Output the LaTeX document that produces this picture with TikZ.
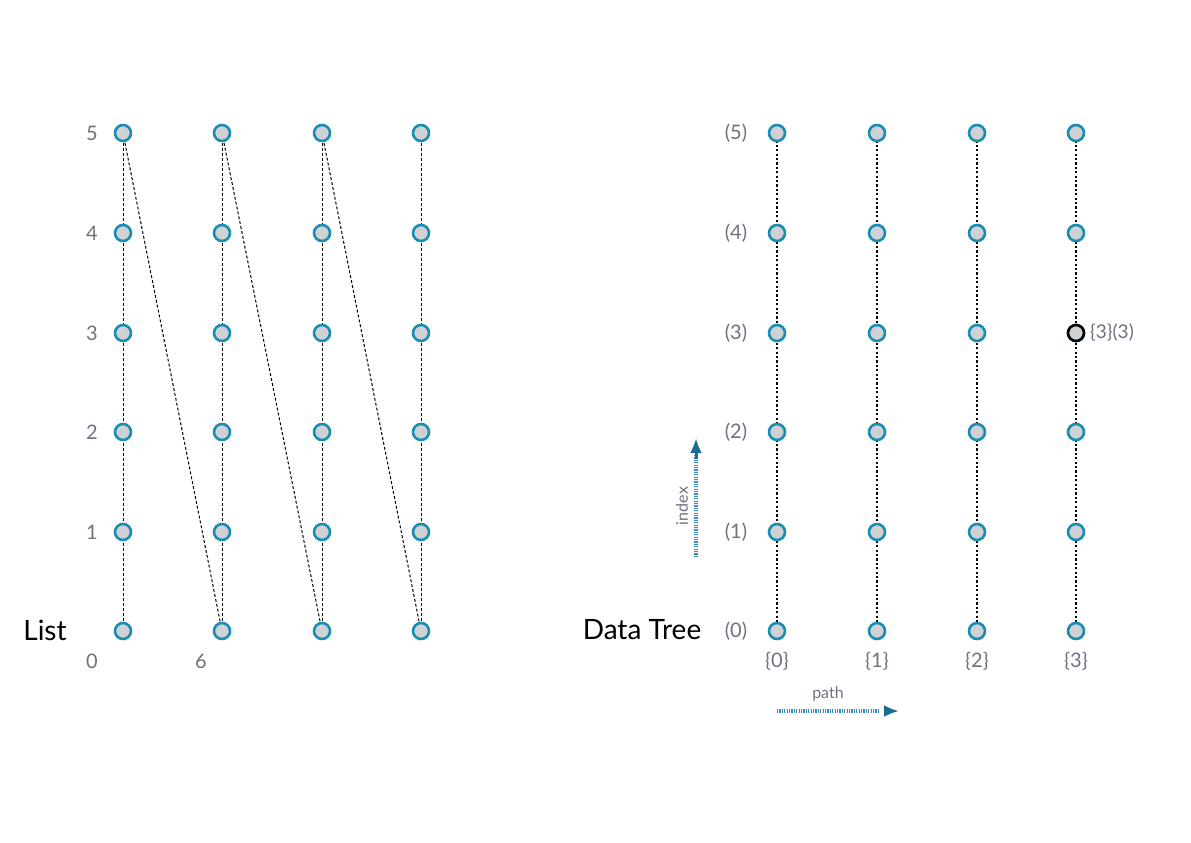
\documentclass[tikz,border=0pt]{standalone}
\usepackage{fontspec}
\setmainfont{Lato}
\usetikzlibrary{arrows.meta}
\definecolor{nodeblue}{HTML}{1A8DB3}
\definecolor{nodefill}{HTML}{D0D1D5}
\definecolor{labgray}{HTML}{6E7180}
\definecolor{arrblue}{HTML}{1A6E94}
\definecolor{shaftblue}{HTML}{3A8CB5}
\tikzset{
  pt/.style={circle, draw=nodeblue, fill=nodefill, line width=2.6pt, minimum size=16pt, inner sep=0pt},
  hipt/.style={pt, draw=black},
  lab/.style={text=labgray, font=\fontsize{20}{22}\selectfont, inner sep=0pt},
  smalllab/.style={text=labgray, font=\fontsize{16}{18}\selectfont, inner sep=0pt},
  title/.style={text=black, font=\fontsize{28}{32}\selectfont, inner sep=0pt},
  listline/.style={line width=1pt, dash pattern=on 3pt off 2pt},
  treeline/.style={line width=1.8pt, dash pattern=on 2.2pt off 2.2pt},
  axisline/.style={shaftblue, line width=3.5pt, dash pattern=on 1.2pt off 1.2pt},
  axishead/.style={arrblue, line width=3pt, -{Latex[length=15pt,width=12pt]}},
}
\begin{document}
\begin{tikzpicture}[x=1pt,y=-1pt]
\useasboundingbox (0,0) rectangle (1191,843);
% ---------- List ----------
\foreach \c/\x in {0/123,1/222,2/322,3/421}{
  \foreach \r/\y in {0/631,1/532,2/432,3/333,4/233,5/133}{
    \coordinate (L\c-\r) at (\x,\y);
  }
}
\foreach \c in {0,1,2,3}{
  \draw[listline] (L\c-0) -- (L\c-5);
}
\draw[listline] (L0-5) -- (L1-0);
\draw[listline] (L1-5) -- (L2-0);
\draw[listline] (L2-5) -- (L3-0);
\foreach \c in {0,1,2,3}{
  \foreach \r in {0,...,5}{
    \node[pt] (LN\c-\r) at (L\c-\r) {};
  }
}
\foreach \r/\y in {1/532,2/432,3/333,4/233,5/133}{
  \node[lab] (LL\r) at (92,\y) {\r};
}
\node[title] (listt) at (45,630) {List};
\node[lab] (l0) at (92,661) {0};
\node[lab] (l6) at (201,661) {6};
% ---------- Data Tree ----------
\foreach \c/\x in {0/777,1/877,2/977,3/1076}{
  \foreach \r/\y in {0/631,1/532,2/432,3/333,4/233,5/133}{
    \coordinate (T\c-\r) at (\x,\y);
  }
  \draw[treeline] (T\c-0) -- (T\c-5);
  \node[lab] (TP\c) at (\x,661) {\{\c\}};
}
\foreach \c in {0,1,2,3}{
  \foreach \r in {0,...,5}{
    \node[pt] (TN\c-\r) at (T\c-\r) {};
  }
}
\node[hipt] (TH) at (T3-3) {};
\node[lab, anchor=west, font=\fontsize{19}{22}\selectfont] (thl) at (1090,333) {\{3\}(3)};
\foreach \r/\y in {0/631,1/532,2/432,3/333,4/233,5/133}{
  \node[lab] (TL\r) at (736,\y) {(\r)};
}
\node[title] (treet) at (642,630) {Data Tree};
% axes
\coordinate (pa) at (777,711);
\coordinate (pb) at (880,711);
\coordinate (pc) at (899,711);
\draw[axisline] (pa) -- (pb);
\draw[axishead] (884,711) -- (pc);
\node[smalllab] (pathl) at (828,694) {path};
\coordinate (ia) at (696,557);
\coordinate (ib) at (696,455);
\coordinate (ic) at (696,438);
\draw[axisline] (ia) -- (ib);
\draw[axishead] (696,459) -- (ic);
\node[smalllab, rotate=90] (indexl) at (682,506) {index};
\end{tikzpicture}
\end{document}
